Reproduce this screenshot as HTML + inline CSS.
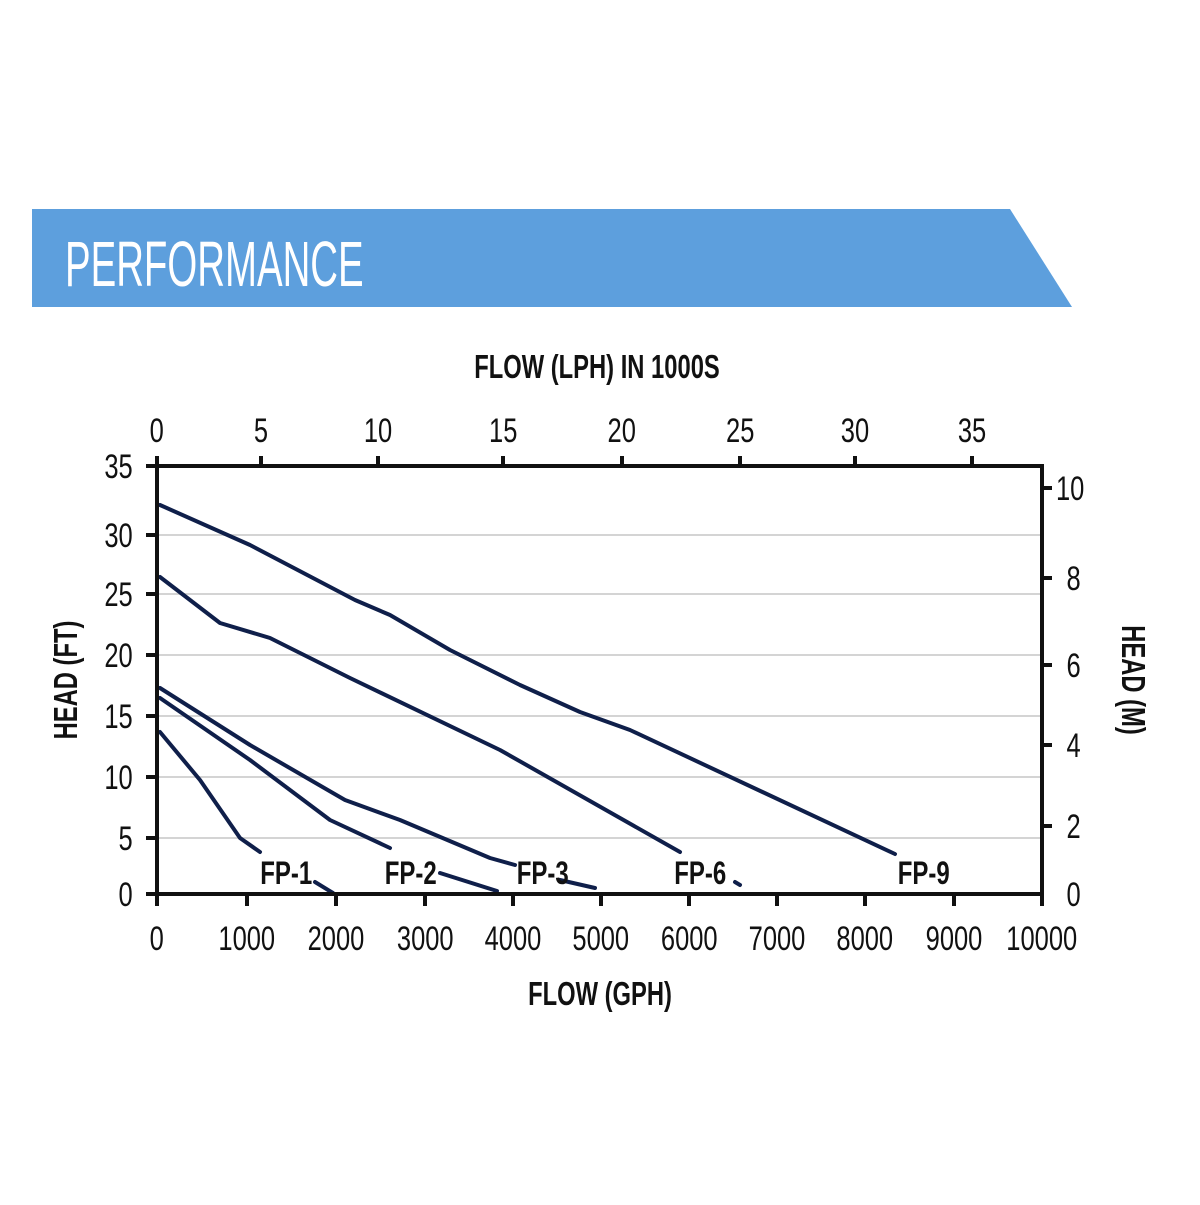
<!DOCTYPE html>
<html><head><meta charset="utf-8"><style>
body{margin:0;background:#fff;width:1200px;height:1200px;overflow:hidden}
svg text{font-family:"Liberation Sans",sans-serif;fill:#111}
</style></head><body>
<svg width="1200" height="1200" viewBox="0 0 1200 1200">
<polygon points="32,209 1010,209 1072,307 32,307" fill="#5d9fdd"/>
<text x="65" y="286" transform="translate(65,0) scale(0.6,1) translate(-65,0)" font-size="64" style="fill:#fff">PERFORMANCE</text>
<text x="597" y="378" text-anchor="middle" font-size="33" font-weight="bold" transform="translate(597,0) scale(0.72,1) translate(-597,0)">FLOW (LPH) IN 1000S</text>
<text x="600" y="1005" text-anchor="middle" font-size="33" font-weight="bold" transform="translate(600,0) scale(0.72,1) translate(-600,0)">FLOW (GPH)</text>
<text transform="translate(77,680) rotate(-90) scale(0.72,1)" text-anchor="middle" font-size="33" font-weight="bold" x="0" y="0">HEAD (FT)</text>
<text transform="translate(1122,680) rotate(90) scale(0.72,1)" text-anchor="middle" font-size="33" font-weight="bold" x="0" y="0">HEAD (M)</text>
<g stroke="#d4d4d4" stroke-width="2">
<line x1="157" x2="1042" y1="535" y2="535"/><line x1="157" x2="1042" y1="594" y2="594"/><line x1="157" x2="1042" y1="655" y2="655"/><line x1="157" x2="1042" y1="716" y2="716"/><line x1="157" x2="1042" y1="777" y2="777"/><line x1="157" x2="1042" y1="838" y2="838"/>
</g>
<g stroke="#0f1f4a" stroke-width="4" fill="none" stroke-linejoin="round" stroke-linecap="round">
<polyline points="160,505 250,545 355,600 390,615 450,650 520,685 580,712 630,730 895,854"/>
<polyline points="160,577 220,623 270,638 350,678 500,750 680,852"/>
<line x1="735" y1="882" x2="740" y2="885"/>
<polyline points="160,688 250,745 345,800 400,820 490,858 515,865"/>
<polyline points="560,880 595,888"/>
<polyline points="160,698 250,760 330,820 390,848"/>
<polyline points="440,873 497,891"/>
<polyline points="160,732 200,780 240,838 260,852"/>
<polyline points="315,882 333,893"/>
</g>
<g stroke="#111" stroke-width="4" fill="none">
<rect x="157" y="466" width="885" height="428"/>
<line x1="157" y1="456" x2="157" y2="466"/><line x1="261" y1="456" x2="261" y2="466"/><line x1="378" y1="456" x2="378" y2="466"/><line x1="503" y1="456" x2="503" y2="466"/><line x1="622" y1="456" x2="622" y2="466"/><line x1="740" y1="456" x2="740" y2="466"/><line x1="855" y1="456" x2="855" y2="466"/><line x1="972" y1="456" x2="972" y2="466"/>
<line x1="146" y1="466" x2="157" y2="466"/><line x1="146" y1="535" x2="157" y2="535"/><line x1="146" y1="594" x2="157" y2="594"/><line x1="146" y1="655" x2="157" y2="655"/><line x1="146" y1="716" x2="157" y2="716"/><line x1="146" y1="777" x2="157" y2="777"/><line x1="146" y1="838" x2="157" y2="838"/><line x1="146" y1="894" x2="157" y2="894"/>
<line x1="1042" y1="488" x2="1052" y2="488"/><line x1="1042" y1="578" x2="1052" y2="578"/><line x1="1042" y1="665" x2="1052" y2="665"/><line x1="1042" y1="745" x2="1052" y2="745"/><line x1="1042" y1="826" x2="1052" y2="826"/>
<line x1="157" y1="894" x2="157" y2="906"/><line x1="247" y1="894" x2="247" y2="906"/><line x1="336" y1="894" x2="336" y2="906"/><line x1="425" y1="894" x2="425" y2="906"/><line x1="513" y1="894" x2="513" y2="906"/><line x1="601" y1="894" x2="601" y2="906"/><line x1="689" y1="894" x2="689" y2="906"/><line x1="777" y1="894" x2="777" y2="906"/><line x1="865" y1="894" x2="865" y2="906"/><line x1="954" y1="894" x2="954" y2="906"/><line x1="1042" y1="894" x2="1042" y2="906"/>
</g>
<g font-size="34" text-anchor="middle">
<g transform="scale(0.75,1)">
<text x="209" y="442">0</text><text x="348" y="442">5</text><text x="504" y="442">10</text><text x="671" y="442">15</text><text x="829" y="442">20</text><text x="987" y="442">25</text><text x="1140" y="442">30</text><text x="1296" y="442">35</text>
<text x="209" y="950">0</text><text x="329" y="950">1000</text><text x="448" y="950">2000</text><text x="567" y="950">3000</text><text x="684" y="950">4000</text><text x="801" y="950">5000</text><text x="919" y="950">6000</text><text x="1036" y="950">7000</text><text x="1153" y="950">8000</text><text x="1272" y="950">9000</text><text x="1389" y="950">10000</text>
<g text-anchor="end">
<text x="177" y="478">35</text><text x="177" y="547">30</text><text x="177" y="606">25</text><text x="177" y="667">20</text><text x="177" y="728">15</text><text x="177" y="789">10</text><text x="177" y="850">5</text><text x="177" y="906">0</text>
</g>
<g text-anchor="start">
<text x="1408" y="500">10</text><text x="1422" y="590">8</text><text x="1422" y="677">6</text><text x="1422" y="757">4</text><text x="1422" y="838">2</text><text x="1422" y="906">0</text>
</g>
</g>
</g>
<g font-size="32" font-weight="bold" transform="scale(0.75,1)">
<text x="347" y="884">FP-1</text><text x="513" y="884">FP-2</text><text x="689" y="884">FP-3</text><text x="899" y="884">FP-6</text><text x="1197" y="884">FP-9</text>
</g>
</svg>
</body></html>
